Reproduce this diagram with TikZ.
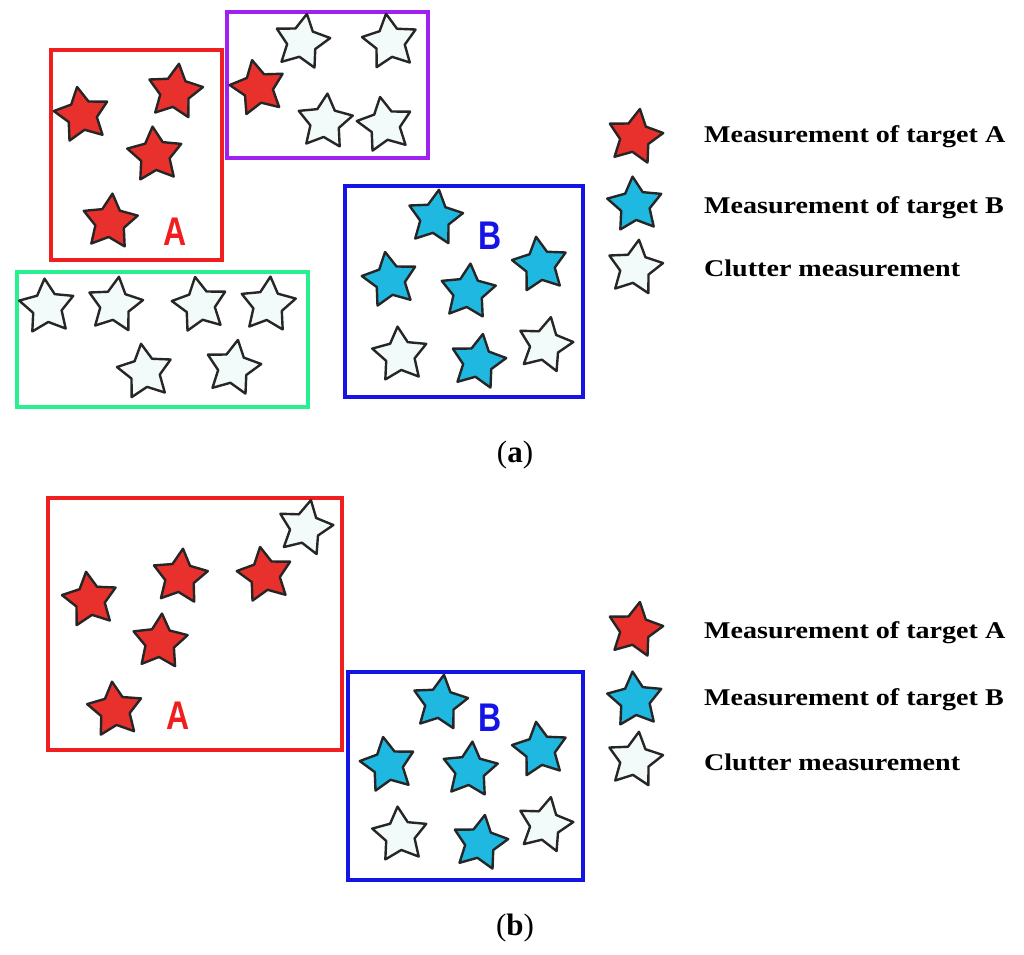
\documentclass[tikz,border=0pt]{standalone}
\usepackage{fontspec}
\setmainfont{Liberation Serif}
\setsansfont{Liberation Sans}
\usetikzlibrary{shapes.geometric}
\definecolor{sred}{HTML}{E8302C}
\definecolor{scyan}{HTML}{1FB8E0}
\definecolor{swhite}{HTML}{F2FAFA}
\definecolor{bred}{HTML}{F01E1E}
\definecolor{bpurple}{HTML}{A020F0}
\definecolor{bgreen}{HTML}{28F090}
\definecolor{bblue}{HTML}{1414E6}
\tikzset{
 st/.style={star,star points=5,star point ratio=1.9,minimum size=57pt,inner sep=0pt,draw=black!85,line width=2.4pt,line join=round,rotate=#1},
 R/.style={st=#1,fill=sred}, C/.style={st=#1,fill=scyan}, W/.style={st=#1,fill=swhite},
 bx/.style={line width=3.5pt},
 leg/.style={anchor=west,font=\fontsize{24}{28}\selectfont\bfseries,xscale=1.17},
 big/.style={font=\fontsize{40}{44}\selectfont\sffamily,xscale=0.8},
 captxt/.style={font=\fontsize{31}{34}\selectfont}
}
\begin{document}
\begin{tikzpicture}[x=1pt,y=-1pt]
\useasboundingbox (0,0) rectangle (1024,954);
% (a)
\draw[bx,bred] (51,50) rectangle (222,260);
\draw[bx,bpurple] (227,12) rectangle (428,158);
\draw[bx,bgreen] (17,272) rectangle (308,407);
\draw[bx,bblue] (345,186) rectangle (583,397);
\node[R=10] (a1) at (82,115) {};
\node[R=-8] (a2) at (175,92) {};
\node[R=5] (a3) at (155,155) {};
\node[R=-5] (a4) at (110,222) {};
\node[big,text=bred] (la) at (175,232) {\textbf{A}};
\node[R=12] (p1) at (258,88) {};
\node[W=-10] (p2) at (302,42) {};
\node[W=8] (p3) at (390,42) {};
\node[W=-5] (p4) at (325,122) {};
\node[W=10] (p5) at (385,125) {};
\node[W=5] (g1) at (47,307) {};
\node[W=-8] (g2) at (115,305) {};
\node[W=10] (g3) at (200,305) {};
\node[W=-5] (g4) at (268,305) {};
\node[W=8] (g5) at (145,372) {};
\node[W=-10] (g6) at (233,368) {};
\node[C=-8] (b1) at (435,218) {};
\node[C=10] (b2) at (390,280) {};
\node[C=-5] (b3) at (468,292) {};
\node[C=8] (b4) at (540,265) {};
\node[C=-10] (b5) at (478,362) {};
\node[W=5] (b6) at (400,355) {};
\node[W=-12] (b7) at (545,345) {};
\node[big,text=bblue] (lb) at (490,236) {\textbf{B}};
\node[R=-10] (k1) at (635,137) {};
\node[C=5] (k2) at (635,205) {};
\node[W=-8] (k3) at (635,268) {};
\node[leg] (t1) at (700,137) {Measurement of target A};
\node[leg] (t2) at (700,208) {Measurement of target B};
\node[leg] (t3) at (700,268) {Clutter measurement};
\node[captxt] (ca) at (515,455) {(\textbf{a})};
% (b)
\draw[bx,bred] (48,498) rectangle (342,750);
\draw[bx,bblue] (348,672) rectangle (583,880);
\node[R=8] (c1) at (90,600) {};
\node[R=-6] (c2) at (180,577) {};
\node[R=10] (c3) at (265,575) {};
\node[R=-4] (c4) at (160,642) {};
\node[R=6] (c5) at (115,710) {};
\node[W=-12] (c6) at (305,528) {};
\node[big,text=bred] (lc) at (178,716) {\textbf{A}};
\node[C=-8] (d1) at (440,703) {};
\node[C=10] (d2) at (388,765) {};
\node[C=-5] (d3) at (470,770) {};
\node[C=8] (d4) at (540,750) {};
\node[C=-10] (d5) at (480,843) {};
\node[W=5] (d6) at (400,835) {};
\node[W=-12] (d7) at (545,825) {};
\node[big,text=bblue] (ld) at (490,718) {\textbf{B}};
\node[R=-10] (m1) at (635,630) {};
\node[C=5] (m2) at (635,700) {};
\node[W=-8] (m3) at (635,760) {};
\node[leg] (u1) at (700,633) {Measurement of target A};
\node[leg] (u2) at (700,700) {Measurement of target B};
\node[leg] (u3) at (700,762) {Clutter measurement};
\node[captxt] (cb) at (515,928) {(\textbf{b})};
\end{tikzpicture}
\end{document}
